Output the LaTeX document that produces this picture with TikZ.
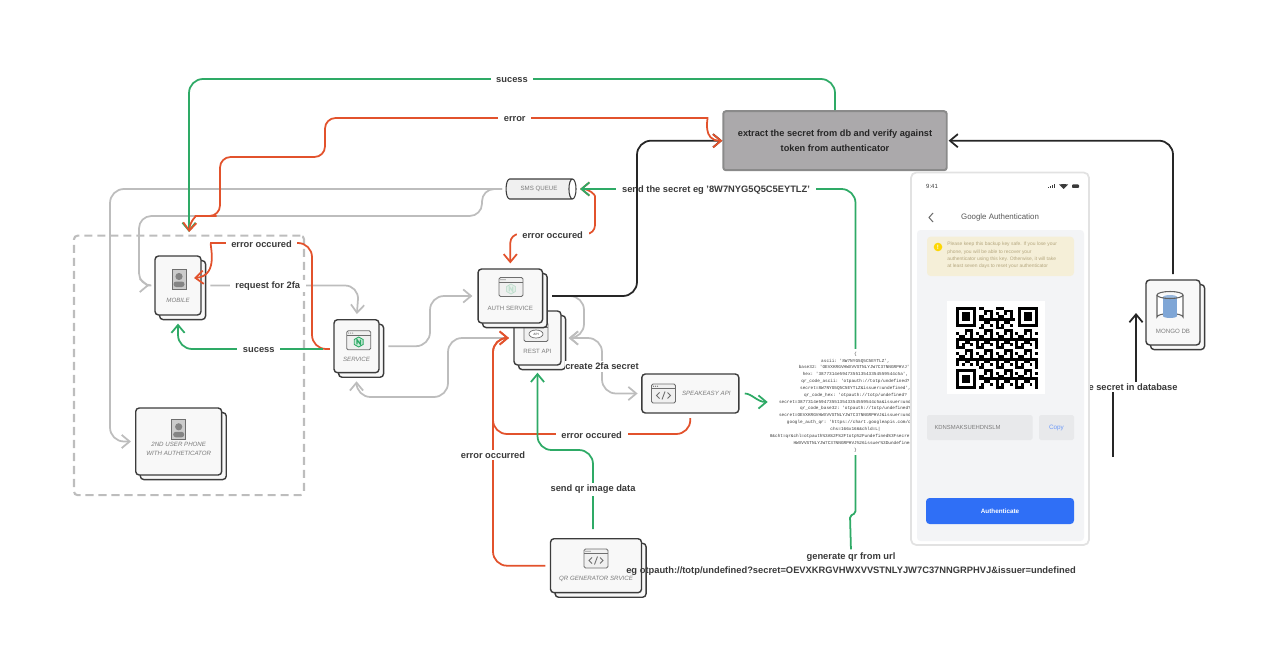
\documentclass[tikz,border=0pt]{standalone}
\usepackage{fontspec}
\setmainfont{Liberation Sans}
\setmonofont{Liberation Mono}
\usetikzlibrary{arrows.meta, shapes.geometric, shadows}

\definecolor{flowgreen}{HTML}{2EAA66}
\definecolor{flowred}{HTML}{E2522C}
\definecolor{flowgray}{HTML}{BDBDBD}
\definecolor{flowblack}{HTML}{262626}
\definecolor{labelink}{HTML}{3A3A3A}
\definecolor{cardline}{HTML}{3C3C3C}
\definecolor{cardfill}{HTML}{F8F8F8}
\definecolor{cardink}{HTML}{7C7C7C}
\definecolor{iconline}{HTML}{6E6E6E}
\definecolor{iconfill}{HTML}{F0F0F0}
\definecolor{verifyfill}{HTML}{ABA9AB}
\definecolor{verifyline}{HTML}{8A8A8A}
\definecolor{phoneline}{HTML}{E2E2E2}
\definecolor{phonepanel}{HTML}{F3F4F6}
\definecolor{phonefield}{HTML}{E8E9EB}
\definecolor{noticefill}{HTML}{F5EFD8}
\definecolor{noticeink}{HTML}{B4A67E}
\definecolor{authblue}{HTML}{2F6FF6}
\definecolor{dbblue}{HTML}{7FA6D6}

\tikzset{
    flow/.style={line width=1pt, rounded corners=8pt},
    grayflow/.style={flow, draw=flowgray},
    redflow/.style={flow, draw=flowred},
    greenflow/.style={flow, draw=flowgreen},
    blackflow/.style={flow, draw=flowblack},
    lbl/.style={font=\bfseries\fontsize{5.3}{8}\selectfont, text=labelink, fill=white, sharp corners, inner ysep=1pt, inner xsep=3.2pt, align=center, yshift=-.4pt},
    card/.style={draw=cardline, fill=cardfill, line width=.8pt, rounded corners=2pt, inner sep=0pt,
        font=\fontsize{3.5}{4.9}\selectfont, text=cardink, align=center},
    stacked/.style={copy shadow={shadow xshift=2.6pt, shadow yshift=-2.6pt, draw=cardline, fill=cardfill}},
    cardtext/.style={text height=#1, text depth=0pt},
    phonetext/.style={inner sep=0pt, text=#1},
    windowicon/.pic={
        \draw[iconline, fill=iconfill, line width=.5pt, rounded corners=.8pt] (-12,-9.5) rectangle (12,9.5);
        \draw[iconline, line width=.5pt] (-12,-5) -- (12,-5);
        \foreach \dotx in {-10,-8,-6} \fill[iconline] (\dotx,-7.2) circle (.6);
    },
    codeglyph/.pic={
        \draw[iconline, line width=.5pt] (-4,-1) -- (-7,2) -- (-4,5) (4,-1) -- (7,2) -- (4,5) (1.5,-2) -- (-1.5,6);
    },
    personicon/.pic={
        \draw[iconline, fill=iconfill!85!black, line width=.5pt] (-7,-10) rectangle (7,10);
        \fill[iconline!85] (0,-2.5) circle (3.6);
        \fill[iconline!85, rounded corners=1.5pt] (-5.5,8) -- (-5.5,2.5) -- (5.5,2.5) -- (5.5,8) -- cycle;
    },
    hexglyph/.pic={
        \draw[#1, fill=#1!25, line width=.5pt] (0,-5) -- (4.4,-2.5) -- (4.4,2.5) -- (0,5) -- (-4.4,2.5) -- (-4.4,-2.5) -- cycle;
        \draw[#1, line width=.7pt] (-1.8,2.4) -- (-1.8,-2.4) -- (1.8,2.4) -- (1.8,-2.4);
    },
    dbicon/.pic={
        \draw[cardline!80, fill=white, line width=.6pt] (-13,-11) -- (-13,11) arc (180:360:13 and 3.5) -- (13,-11);
        \fill[dbblue] (-7,-9) rectangle (7,10);
        \fill[dbblue] (0,10) ellipse (7 and 2);
        \fill[dbblue!80!white] (0,-9) ellipse (7 and 2);
        \draw[cardline!80, line width=.6pt] (0,-11) ellipse (13 and 3.5);
    }
}

\begin{document}
\begin{tikzpicture}[x=0.02cm, y=-0.02cm, >={Straight Barb[length=4.5pt, width=7.5pt]}]
    \useasboundingbox (0,0) rectangle (1280,672);

    % Nodes
    \node[draw=flowgray, line width=1.2pt, dash pattern=on 4.6pt off 2.8pt, rounded corners=2pt, minimum width=4.6cm, minimum height=5.19cm] (group) at (189,365.4) {};

    \node[card, stacked, minimum width=.92cm, minimum height=1.18cm, cardtext=19.4pt, font=\itshape\fontsize{3.5}{4.9}\selectfont] (mobile) at (178,285.5) {MOBILE};
    \node[card, stacked, minimum width=1.72cm, minimum height=1.34cm, cardtext=15.4pt, font=\itshape\fontsize{3.5}{4.9}\selectfont] (user2) at (178.7,441.5) {2ND USER PHONE\\WITH AUTHETICATOR};
    \node[card, stacked, minimum width=.9cm, minimum height=1.06cm, cardtext=17.4pt, font=\itshape\fontsize{3.5}{4.9}\selectfont] (service) at (356.5,346.2) {SERVICE};
    \node[card, stacked, minimum width=.94cm, minimum height=1.08cm, cardtext=17.3pt] (rest) at (537.5,338) {REST API};
    \pic at (536,332) {windowicon};
    \draw[iconline, fill=white, line width=.4pt] (536,334) ellipse (7 and 4);
    \node[inner sep=0pt, text=iconline, font=\bfseries\fontsize{1.8}{2}\selectfont] (restglyph) at (536,334) {API};
    \node[card, stacked, minimum width=1.29cm, minimum height=1.08cm, cardtext=16.5pt] (auth) at (510.3,296) {AUTH SERVICE};
    \node[card, minimum width=1.94cm, minimum height=.78cm, font=\itshape\fontsize{3.5}{4.9}\selectfont] (speakeasy) at (690.3,393.5) {\hspace*{18.2pt}SPEAKEASY API};
    \node[card, stacked, minimum width=1.82cm, minimum height=1.08cm, cardtext=16.8pt, font=\itshape\fontsize{3.5}{4.9}\selectfont] (qrgen) at (596,565.7) {QR GENERATOR SRVICE};
    \node[card, stacked, minimum width=1.08cm, minimum height=1.3cm, cardtext=23.4pt] (mongo) at (1173,312.5) {MONGO DB};
    \node[cylinder, draw=cardline, line width=.6pt, cylinder uses custom fill, cylinder body fill=iconfill, cylinder end fill=white, shape aspect=1.3, inner sep=0pt, minimum width=.4cm, minimum height=1.4cm, font=\fontsize{3.5}{4.9}\selectfont, text=cardink] (sms) at (539,189) {SMS QUEUE};
    \node[draw=verifyline, fill=verifyfill, line width=1.1pt, rounded corners=1.5pt, minimum width=4.47cm, minimum height=1.18cm, inner sep=0pt, align=center, text=flowblack, font=\bfseries\fontsize{5.25}{8}\selectfont] (verify) at (835,140.7) {extract the secret from db and verify against\\token from authenticator};

    % Icons on the cards
    \pic at (179,279) {personicon};
    \pic at (178.7,429.3) {personicon};
    \pic at (358.7,340.3) {windowicon};
    \pic at (358.7,342) {hexglyph=flowgreen};
    \pic at (511,287) {windowicon};
    \pic[opacity=.2] at (511,289) {hexglyph=flowgreen};
    \pic at (663.5,393.5) {windowicon};
    \pic at (663.5,393.5) {codeglyph};
    \pic at (596,558.5) {windowicon};
    \pic at (596,558.5) {codeglyph};
    \pic at (1170,306) {dbicon};

    % Free ends of the store arrow
    \coordinate (storestart) at (1113,457);
    \coordinate (storetip) at (1136,313);
    \coordinate (mobilein) at (194,278);
    \coordinate (sucessbend) at (178,349);

    % Gray connections
    \draw[grayflow, ->, shorten >=2.3pt, shorten <=2pt] (sms.west) -- (110,189) -- (110,441.5) -- (user2.west);
    \draw[grayflow, ->, shorten >=3pt, shorten <=2pt, rounded corners=7pt] (sms.west) -- (482,189) -- (482,216) -- (139,216) -- (139,285.5) -- (mobile.west);
    \draw[grayflow, ->, shorten <=5pt, shorten >=2.8pt] (mobile.east) -- node[lbl, pos=.42] {request for 2fa} (359,285.5) -- (service.north);
    \draw[grayflow, ->, shorten <=5pt, shorten >=2.8pt] (service.east) -- (430,346.2) -- (430,296) -- (auth.west);
    \draw[grayflow, ->, shorten <=3pt, shorten >=4.5pt] (rest.west) -- (448,338) -- (448,397) -- (356.5,397) -- (service.south);
    \draw[grayflow, ->, shorten <=5pt, shorten >=4pt] (auth.east) -- (584,296) -- (584,338) -- (rest.east);
    \draw[grayflow, <->, shorten <=4pt, shorten >=2pt] (rest.east) -- (602,338) -- node[lbl, inner xsep=0pt] {create 2fa secret} (602,393.5) -- (speakeasy.west);

    % Red error paths
    \draw[redflow, ->, shorten <=2pt] (service.west |- sucessbend) -- (312,349) -- (312,243) -- node[lbl, pos=.58] {error occured} (225,243) .. controls (209,243) and (220,276) .. (mobilein);
    \draw[redflow, <->, rounded corners=5pt, shorten <=2.8pt, shorten >=2pt] (auth.north) -- (510.3,234) -- node[lbl] {error occured} (595,234) -- (595,205) .. controls (595,195) and (590,189) .. (sms.east);
    \draw[redflow, ->, shorten <=2.5pt, shorten >=2.5pt] (speakeasy.south) -- (690.3,434) -- node[lbl, pos=.5] {error occured} (493,434) -- (493,338) -- (rest.west);
    \draw[redflow, ->, shorten <=2.5pt, shorten >=2.5pt] (qrgen.west) -- (493,565.7) -- node[lbl, pos=.49] {error occurred} (493,338) -- (rest.west);

    % Green success paths
    \draw[greenflow, ->, shorten >=1.5pt] (verify.north) -- (835,79) -- node[lbl] {sucess} (189,79) -- (group.north);
    \draw[greenflow, ->, shorten <=6pt, shorten >=4.5pt] (service.west |- sucessbend) -- node[lbl, pos=.48] {sucess} (sucessbend) -- (mobile.south);
    \draw[greenflow, ->, shorten <=5pt, shorten >=4pt] ([xshift=-1.7pt]qrgen.north) -- node[lbl, pos=.56] {send qr image data} (593,450) -- (537.5,450) -- (rest.south);

    % The generated url and the secret that comes back
    \node[lbl, fill=none, font=\bfseries\fontsize{5.32}{7.6}\selectfont] (qrurl) at (851,563.5) {generate qr from url\\eg otpauth://totp/undefined?secret=OEVXKRGVHWXVVSTNLYJW7C37NNGRPHVJ\&issuer=undefined};
    \draw[greenflow, ->, shorten <=1pt, shorten >=2pt] (qrurl.north) [rounded corners=1pt] -- (850,516) -- (855.5,513) [rounded corners=8pt] -- (855.5,189) -- node[lbl, pos=.5] {send the secret eg '8W7NYG5Q5C5EYTLZ'} (sms.east);

    % Secret object printed by the api
    \node[fill=white, inner xsep=0pt, inner ysep=1.5pt, align=center, text=labelink, font=\ttfamily\fontsize{2.5}{3.9}\selectfont] (secret) at (855.5,402) {\{\\
        ascii: '8W7NYG5Q5C5EYTLZ',\\
        base32: 'OEVXKRGVHWXVVSTNLYJW7C37NNGRPHVJ',\\
        hex: '3877314e594735513543354559544c5a',\\
        qr\_code\_ascii: 'otpauth://totp/undefined?\\
        secret=8W7NYG5Q5C5EYTLZ\&issuer=undefined',\\
        qr\_code\_hex: 'otpauth://totp/undefined?\\
        secret=3877314e594735513543354559544c5a\&issuer=undefined',\\
        qr\_code\_base32: 'otpauth://totp/undefined?\\
        secret=OEVXKRGVHWXVVSTNLYJW7C37NNGRPHVJ\&issuer=undefined',\\
        google\_auth\_qr: 'https://chart.googleapis.com/chart?\\
        chs=166x166\&chld=L|\\
        0\&cht=qr\&chl=otpauth\%3A\%2F\%2Ftotp\%2Fundefined\%3Fsecret\%3DOEVXKRGV\\
        HWXVVSTNLYJW7C37NNGRPHVJ\%26issuer\%3Dundefined',\\
        \}};
    \draw[greenflow, ->, shorten <=3pt, shorten >=1pt] (speakeasy.east) to[out=0, in=180] (secret.west);

    % Black paths
    \draw[blackflow, ->, shorten <=5pt] (auth.east) -- (637,296) -- (637,140.7) -- (verify.west);
    \draw[blackflow, ->, shorten <=3pt, shorten >=.5pt] (mongo.north) -- (1173,140.7) -- (verify.east);
    \draw[blackflow, ->, sharp corners] (storestart) -- (1113,386) -- node[lbl, pos=.87] {e secret in database} (1136,386) -- (storetip);

    % Red path over the ends of the others
    \draw[redflow, <->, rounded corners=6pt, shorten <=1.5pt] (group.north) .. controls (190,220) and (197,216) .. (206,216) -- (220,216) -- (220,157) -- (325,157) -- (325,118) -- node[lbl, pos=.51] {error} (697,118) .. controls (708,118) and (702,141) .. (verify.west);

    % Phone screen
    \draw[phoneline, fill=white, line width=1pt, rounded corners=3pt] (911,172.5) rectangle (1089,545);
    \fill[phonepanel, rounded corners=2pt] (917,230) rectangle (1084,541);
    \node[phonetext=labelink, font=\fontsize{3.4}{4}\selectfont] (clock) at (932,186) {9:41};
    \foreach \barx/\barh in {1048/1.2, 1050/2, 1052/3, 1054/4} \fill[labelink] (\barx,188) rectangle ++(1.3,-\barh);
    \fill[labelink] (1059,184.5) -- (1063.5,184) -- (1068,184.5) -- (1063.5,189) -- cycle;
    \fill[labelink, rounded corners=.5pt] (1072,184.5) rectangle (1079,188);
    \draw[iconline, line width=.6pt] (933,213) -- (929,217.5) -- (933,222);
    \node[phonetext=labelink!85, font=\fontsize{4.5}{5}\selectfont] (phonetitle) at (1000,217) {Google Authentication};
    \fill[noticefill, rounded corners=2pt] (927,236.7) rectangle (1074,276);
    \fill[yellow!75!orange] (938,247) circle (4.3);
    \node[phonetext=white, font=\bfseries\fontsize{3.5}{4}\selectfont] (noticemark) at (938,247) {!};
    \node[phonetext=noticeink, anchor=north west, align=left, font=\fontsize{2.8}{4.15}\selectfont] (notice) at (947,242) {Please keep this backup key safe. If you lose your\\phone, you will be able to recover your\\authenticator using this key. Otherwise, it will take\\at least seven days to reset your authenticator};

    % QR code
    \fill[white] (947,301) rectangle (1045,394);
    \foreach \i in {0,...,28} \foreach \j in {0,...,28} {
        \pgfmathtruncatemacro{\qrbit}{mod(\i*\i*7+\j*\j*3+\i*\j*5+\i+2*\j,7)<3 ? 1 : 0}
        \ifnum\qrbit=1 \fill[black] (956+\i*2.83,306.7+\j*2.83) rectangle ++(2.9,2.9); \fi
    }
    \foreach \fx/\fy in {956/306.7, 1018.3/306.7, 956/369} {
        \fill[white] (\fx-2.83,\fy-2.83) rectangle ++(25.5,25.5);
        \fill[black] (\fx,\fy) rectangle ++(19.8,19.8);
        \fill[white] (\fx+2.83,\fy+2.83) rectangle ++(14.15,14.15);
        \fill[black] (\fx+5.66,\fy+5.66) rectangle ++(8.5,8.5);
    }

    % Fields under the code
    \node[fill=phonefield, inner sep=0pt, rounded corners=1pt, minimum width=2.11cm, minimum height=.5cm, text=cardink, font=\fontsize{3.35}{4}\selectfont] (keyfield) at (979.8,427.5) {\hspace*{-.49cm}KDNSMAKSUEHDNSLM};
    \node[fill=phonefield, inner sep=0pt, rounded corners=1pt, minimum width=.7cm, minimum height=.5cm, text=authblue!70, font=\fontsize{3.6}{4}\selectfont] (copykey) at (1056.5,427.5) {Copy};
    \node[fill=authblue, inner sep=0pt, rounded corners=2pt, minimum width=2.96cm, minimum height=.52cm, text=white, font=\bfseries\fontsize{3.6}{4}\selectfont] (authenticate) at (1000,511) {Authenticate};
\end{tikzpicture}
\end{document}
